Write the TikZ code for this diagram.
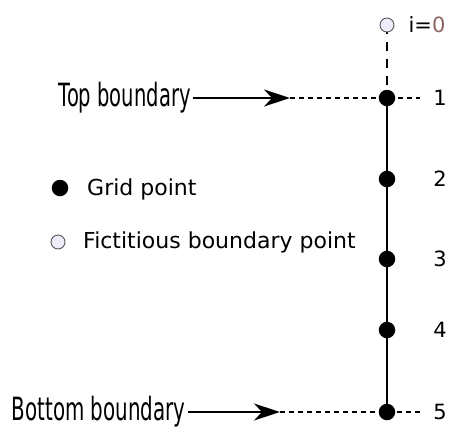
\documentclass[tikz,border=0pt]{standalone}
\usepackage{fontspec}
\setmainfont{DejaVu Sans}
\usepackage{graphicx}
\usetikzlibrary{arrows.meta}

\definecolor{ghostfill}{RGB}{236,236,250}
\definecolor{zerobrown}{RGB}{140,100,95}

\begin{document}
\begin{tikzpicture}[x=1pt,y=1pt,yscale=-1,xscale=1,
  gridpt/.style={circle,fill=black,inner sep=0pt,minimum size=16.5pt},
  ghostpt/.style={circle,draw=black!65,fill=ghostfill,line width=0.9pt,inner sep=0pt,minimum size=14pt},
  idx/.style={font=\fontsize{21}{21}\selectfont,inner sep=0pt},
  legendtxt/.style={font=\fontsize{22}{22}\selectfont,inner sep=0pt,anchor=base west},
  bndtxt/.style={font=\fontsize{32}{32}\selectfont,inner sep=2pt},
  bndarrow/.style={line width=1.6pt,-{Stealth[length=26pt,width=17pt,inset=8pt]}},
  bndline/.style={line width=1.3pt,dash pattern=on 5pt off 4pt}]
\useasboundingbox (0,0) rectangle (474,442);

%Grid points along the column
\coordinate (c0) at (387,25);
\foreach \i/\y in {1/98,2/179,3/259,4/330,5/412}
  \coordinate (c\i) at (387,\y);

%Boundary ends
\coordinate (topend) at (290,98);
\coordinate (topfar) at (420,98);
\coordinate (botend) at (280,412);
\coordinate (botfar) at (420,412);

%Column
\draw [line width=1.8pt] (c1) -- (c5);
\draw [line width=2.4pt,dash pattern=on 9pt off 8pt] (c0) -- (c1);

%Boundary lines
\draw [bndline] (topend) -- (topfar);
\draw [bndline] (botend) -- (botfar);

%Points
\node [ghostpt] (p0) at (c0) {};
\foreach \i in {1,...,5}
  \node [gridpt] (p\i) at (c\i) {};

%Index labels
\node [idx] (n0) at (427,25) {i=\textcolor{zerobrown}{0}};
\foreach \i/\y in {1/98,2/179,3/259,4/330,5/412}
  \node [idx] (n\i) at (440,\y) {\i};

%Boundary arrows
\node [bndtxt] (toptxt) at (124.5,98) {\scalebox{0.61}[1]{Top boundary}};
\node [bndtxt] (bottxt) at (98.5,412) {\scalebox{0.62}[1]{Bottom boundary}};
\draw [bndarrow] (toptxt.east) -- (topend);
\draw [bndarrow] (bottxt.east) -- (botend);

%Legend
\node [gridpt] (lgrid) at (60,188) {};
\node [ghostpt] (lghost) at (58,242) {};
\node [legendtxt] (lgridtxt) at (87,195) {Grid point};
\node [legendtxt] (lghosttxt) at (83,248) {Fictitious boundary point};

\end{tikzpicture}
\end{document}
